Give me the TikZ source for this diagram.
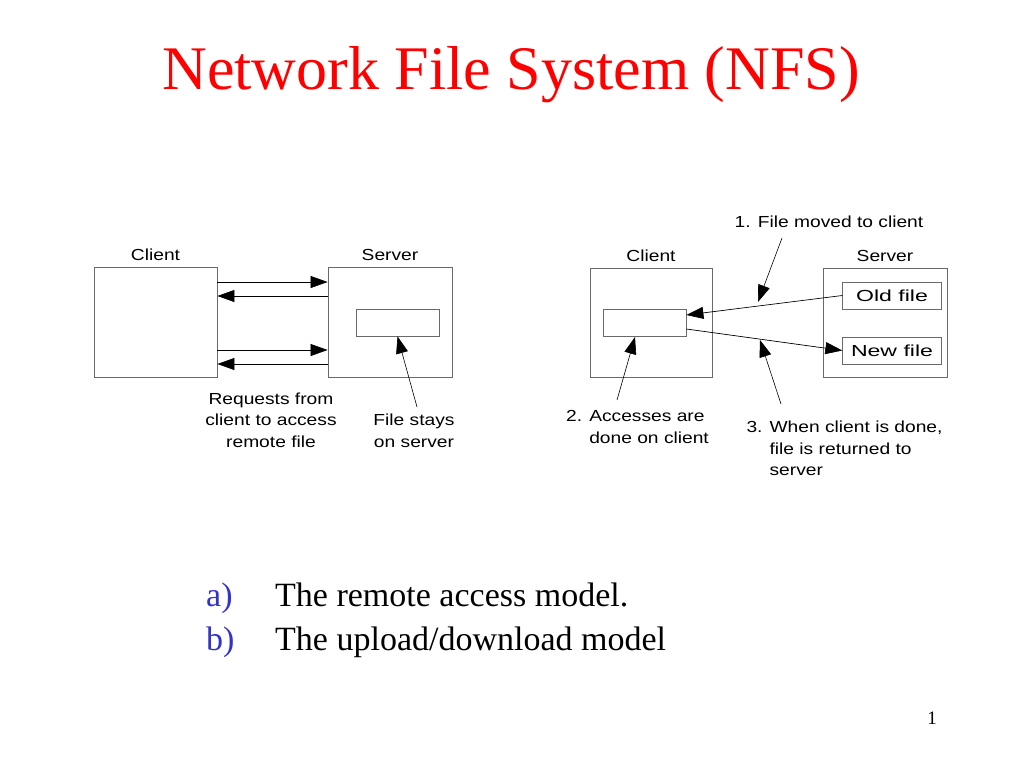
\documentclass[tikz,border=0pt]{standalone}
\usepackage{fontspec}
\setmainfont{Liberation Serif}
\newfontfamily\diagfont{Liberation Sans}
\usetikzlibrary{arrows.meta,positioning}
\definecolor{titlered}{RGB}{255,0,0}
\definecolor{itemblue}{RGB}{51,51,204}
\definecolor{boxgray}{RGB}{105,105,105}

\begin{document}
\begin{tikzpicture}[x=1pt,y=-1pt,
  box/.style={draw=boxgray, line width=0.8pt, minimum width=123pt, minimum height=110pt, inner sep=0pt},
  filebox/.style={draw=boxgray, line width=0.8pt, minimum width=83pt, minimum height=27pt, inner sep=0pt},
  arr/.style={-{Triangle[length=17pt,width=12pt]}, line width=0.7pt},
  lead/.style={-{Triangle[length=17pt,width=12pt]}, line width=0.6pt},
  lbl/.style={font=\diagfont\fontsize{16}{21.5}\selectfont, xscale=1.2, inner sep=1pt},
  item/.style={font=\fontsize{34}{34}\selectfont, inner sep=0pt}]
  \useasboundingbox[fill=white] (0,0) rectangle (1024,768);
  % Title and captions
  \node[font=\fontsize{62}{62}\selectfont, text=titlered, anchor=base] (title) at (511,89) {Network File System (NFS)};
  \node[item, text=itemblue, anchor=base west] (ia) at (206,606) {a)};
  \node[item, anchor=base west] (ta) at (275,606) {The remote access model.};
  \node[item, text=itemblue, anchor=base west] (ib) at (206,650) {b)};
  \node[item, anchor=base west] (tb) at (275,650) {The upload/download model};
  \node[font=\fontsize{19}{19}\selectfont, anchor=base] (pg) at (932,724) {1};
  % (a) remote access model
  \node[box] (cliA) at (155.5,322.5) {};
  \node[box, minimum width=124pt] (srvA) at (390,322.5) {};
  \node[filebox] (fileA) at (397.5,322.5) {};
  \node[lbl, above=5pt of cliA] (cliAlbl) {Client};
  \node[lbl, above=5pt of srvA] (srvAlbl) {Server};
  \foreach \dy in {40.5,-27.5} {
    \draw[arr] ([yshift=\dy pt]cliA.east) -- ([yshift=\dy pt]srvA.west);
  }
  \foreach \dy in {26.5,-41.5} {
    \draw[arr] ([yshift=\dy pt]srvA.west) -- ([yshift=\dy pt]cliA.east);
  }
  \node[lbl, align=center] (reqA) at (271,420) {Requests from\\client to access\\remote file};
  \node[lbl, align=center] (staysA) at (414,431) {File stays\\on server};
  \coordinate (staysAtail) at (417,407);
  \draw[lead] (staysAtail) -- (fileA.south);
  % (b) upload/download model
  \node[box, minimum width=122pt, minimum height=109pt] (cliB) at (651,322.5) {};
  \node[box, minimum width=124pt, minimum height=109pt] (srvB) at (885,322.5) {};
  \node[filebox] (fileB) at (644.5,322.5) {};
  \node[filebox, minimum width=82pt, lbl, xscale=1, inner sep=0pt] (oldB) at (892,295.5) {\scalebox{1.2}[1]{Old file}};
  \node[filebox, minimum width=82pt, lbl, xscale=1, inner sep=0pt] (newB) at (892,350.5) {\scalebox{1.2}[1]{New file}};
  \node[lbl, above=5pt of cliB] (cliBlbl) {Client};
  \node[lbl, above=5pt of srvB] (srvBlbl) {Server};
  \draw[arr] (oldB.west) -- ([yshift=7.5pt]fileB.east);
  \draw[arr] ([yshift=-6.5pt]fileB.east) -- (newB.west);
  \node[lbl] (step1) at (829,222) {1. File moved to client};
  \node[lbl, align=left] (step2) at (637.5,427) {2. Accesses are\\\phantom{2. }done on client};
  \node[lbl, align=left] (step3) at (844.5,448.5) {3. When client is done,\\\phantom{3. }file is returned to\\\phantom{3. }server};
  \coordinate (step1tail) at (782,238);
  \coordinate (step1tip) at (758,302);
  \coordinate (step2tail) at (617,400);
  \coordinate (step2tip) at (635,337);
  \coordinate (step3tail) at (781,404);
  \coordinate (step3tip) at (760,340);
  \draw[lead] (step1tail) -- (step1tip);
  \draw[lead] (step2tail) -- (step2tip);
  \draw[lead] (step3tail) -- (step3tip);
\end{tikzpicture}
\end{document}
